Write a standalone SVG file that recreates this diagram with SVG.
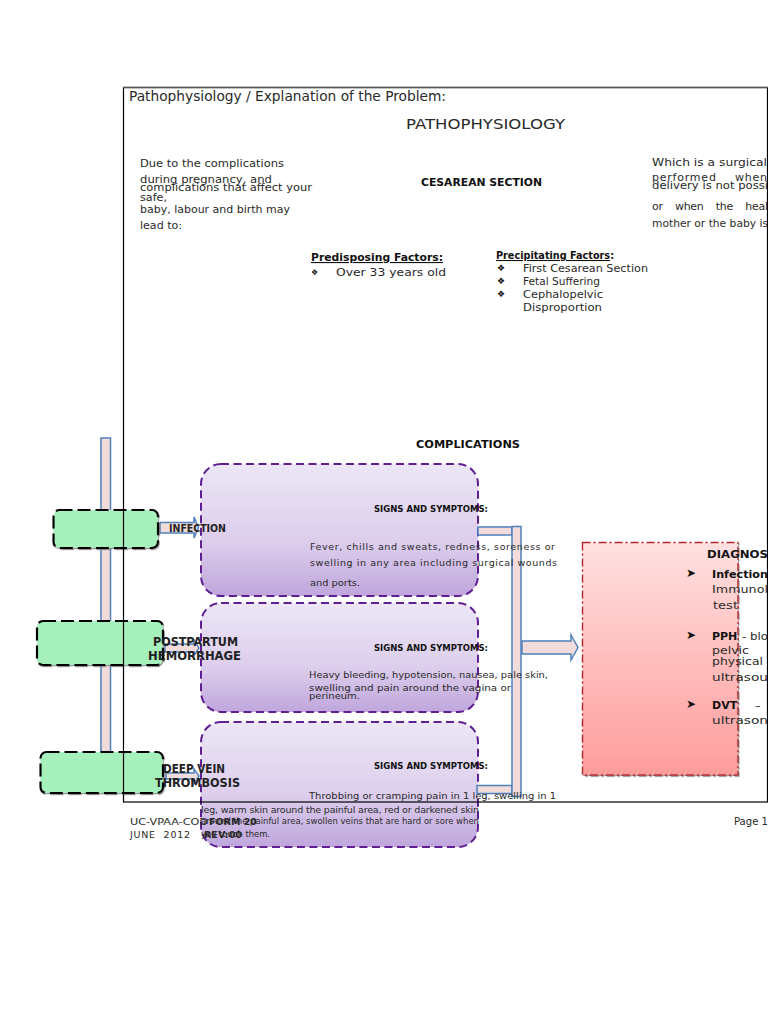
<svg xmlns="http://www.w3.org/2000/svg" width="768" height="1024" viewBox="0 0 768 1024">
<style>
text{font-family:"DejaVu Sans",Verdana,sans-serif;font-size:11px;fill:#2a2a2a}
.b{font-weight:bold;fill:#111}
.u{text-decoration:underline}
.h{font-size:10.5px;font-weight:bold;fill:#111}
.ss{font-size:8px;font-weight:bold;fill:#111}
.sm{font-size:9.5px}
.lab{font-size:11.5px;font-weight:bold;fill:#222}
.dm{fill:#111}
.bar{fill:#f2dcdb;stroke:#4f81bd;stroke-width:1.5}
.green{fill:#a6f0bb;stroke:#000;stroke-width:2.2;stroke-dasharray:13 5;filter:url(#sh)}
.purple{fill:url(#pg);stroke:#5f1f92;stroke-width:2;stroke-dasharray:8 4.5}
</style>
<defs>
<filter id="sh" x="-5%" y="-5%" width="110%" height="115%"><feDropShadow dx="0.800" dy="1.200" stdDeviation="0.600" flood-color="#777" flood-opacity=".8"/></filter>
<linearGradient id="pg" x1="0" y1="0" x2="0" y2="1"><stop offset="0" stop-color="#ece6f6"/><stop offset=".6" stop-color="#dccdec"/><stop offset="1" stop-color="#bfa6dc"/></linearGradient>
<linearGradient id="rg" x1="0" y1="0" x2="0" y2="1"><stop offset="0" stop-color="#ffe0e0"/><stop offset="1" stop-color="#ff9c9c"/></linearGradient>
</defs>
<rect width="768" height="1024" fill="#fff"/>
<g id="connectors">
<rect class="bar" x="101" y="438" width="9.500" height="314"/>
<path class="bar" d="M160 522.500H194V517L198.500 527.500L194 538V533H160Z"/>
<path class="bar" d="M165 644H194V640L199 648L194 656V652H165Z"/>
<path class="bar" d="M166 773H194V769L199 776L194 784V779H166Z"/>
</g>
<g id="header">
<text x="129" y="101" style="font-size:13.500px" textLength="317" lengthAdjust="spacingAndGlyphs">Pathophysiology / Explanation of the Problem:</text>
<text x="406" y="129" style="font-size:13.500px" textLength="159" lengthAdjust="spacingAndGlyphs">PATHOPHYSIOLOGY</text>
<text x="140" y="167" textLength="144" lengthAdjust="spacingAndGlyphs">Due to the complications</text>
<text x="140" y="183" textLength="132" lengthAdjust="spacingAndGlyphs">during pregnancy, and</text>
<text x="140" y="191" textLength="172" lengthAdjust="spacingAndGlyphs">complications that affect your</text>
<text x="140" y="201" textLength="27" lengthAdjust="spacingAndGlyphs">safe,</text>
<text x="140" y="213" textLength="150" lengthAdjust="spacingAndGlyphs">baby, labour and birth may</text>
<text x="140" y="229" textLength="42" lengthAdjust="spacingAndGlyphs">lead to:</text>
<text class="h" x="421" y="186" textLength="121" lengthAdjust="spacingAndGlyphs">CESAREAN SECTION</text>
<text x="652" y="166" textLength="115" lengthAdjust="spacingAndGlyphs">Which is a surgical</text>
<text x="652" y="181" word-spacing="14" textLength="115" lengthAdjust="spacing">performed when</text>
<text x="652" y="189" textLength="116" lengthAdjust="spacingAndGlyphs">delivery is not possi</text>
<text x="652" y="210" word-spacing="9" textLength="116" lengthAdjust="spacing">or when the heal</text>
<text x="652" y="227" style="font-size:10.500px" textLength="116" lengthAdjust="spacingAndGlyphs">mother or the baby is</text>
<text class="b u" x="311" y="261" textLength="132" lengthAdjust="spacingAndGlyphs">Predisposing Factors:</text>
<text class="dm" x="311" y="275" style="font-size:8px">❖</text>
<text x="336" y="276" textLength="110" lengthAdjust="spacingAndGlyphs">Over 33 years old</text>
<text class="b" x="496" y="259" style="font-size:10.500px" textLength="118" lengthAdjust="spacingAndGlyphs"><tspan class="u">Precipitating Factors</tspan>:</text>
<text class="dm" x="497" y="271" style="font-size:9px">❖</text>
<text x="523" y="272" textLength="125" lengthAdjust="spacingAndGlyphs">First Cesarean Section</text>
<text class="dm" x="497" y="284" style="font-size:9px">❖</text>
<text x="523" y="285" textLength="77" lengthAdjust="spacingAndGlyphs">Fetal Suffering</text>
<text class="dm" x="497" y="297" style="font-size:9px">❖</text>
<text x="523" y="298" textLength="80" lengthAdjust="spacingAndGlyphs">Cephalopelvic</text>
<text x="523" y="311" textLength="79" lengthAdjust="spacingAndGlyphs">Disproportion</text>
<text class="h" x="416" y="448" textLength="104" lengthAdjust="spacingAndGlyphs">COMPLICATIONS</text>
</g>
<g id="node-infection-box"><rect class="green" x="53.500" y="510" width="104.500" height="38" rx="6"/></g>
<g id="node-pph-box"><rect class="green" x="37" y="621" width="126" height="44" rx="6"/></g>
<g id="node-dvt-box"><rect class="green" x="40.500" y="752" width="122.500" height="41" rx="6"/></g>
<g id="node-infection"><rect class="purple" x="201" y="464" width="277" height="132" rx="20"/></g>
<g id="node-pph"><rect class="purple" x="201" y="603" width="277" height="109" rx="20"/></g>
<g id="node-dvt"><rect class="purple" x="201" y="722" width="277" height="125" rx="20"/></g>
<g id="connectors-right">
<rect class="bar" x="478" y="527" width="34" height="8"/>
<rect class="bar" x="477" y="785.500" width="35" height="8"/>
<rect class="bar" x="512" y="526.500" width="9" height="270"/>
<path class="bar" d="M522 641H571V635L578 647.500L571 660V654H522Z"/>
</g>
<g id="node-diagnostics"><rect x="582.500" y="542.500" width="155.500" height="232.500" fill="url(#rg)" stroke="#b5262c" stroke-width="1.400" stroke-dasharray="8 3 2 3" filter="url(#sh)"/></g>
<rect id="page" x="123.500" y="87.500" width="644" height="714.500" fill="none" stroke="#000" stroke-width="1.200"/>
<line x1="123" y1="87.500" x2="768" y2="87.500" stroke="#555" stroke-width="1.500"/>
<g id="labels">
<text class="lab" x="169" y="532" style="font-size:10.500px" textLength="57" lengthAdjust="spacingAndGlyphs">INFECTION</text>
<text class="lab" x="153" y="646" textLength="85" lengthAdjust="spacingAndGlyphs">POSTPARTUM</text>
<text class="lab" x="148" y="660" textLength="93" lengthAdjust="spacingAndGlyphs">HEMORRHAGE</text>
<text class="lab" x="163" y="773" textLength="62" lengthAdjust="spacingAndGlyphs">DEEP VEIN</text>
<text class="lab" x="155" y="787" textLength="85" lengthAdjust="spacingAndGlyphs">THROMBOSIS</text>
<text class="ss" x="374" y="512" textLength="114" lengthAdjust="spacingAndGlyphs">SIGNS AND SYMPTOMS:</text>
<text class="sm" x="310" y="550" textLength="245" lengthAdjust="spacing">Fever, chills and sweats, redness, soreness or</text>
<text class="sm" x="310" y="566" textLength="247" lengthAdjust="spacing">swelling in any area including surgical wounds</text>
<text class="sm" x="310" y="586" textLength="50" lengthAdjust="spacingAndGlyphs">and ports.</text>
<text class="ss" x="374" y="651" textLength="114" lengthAdjust="spacingAndGlyphs">SIGNS AND SYMPTOMS:</text>
<text class="sm" x="309" y="678" textLength="239" lengthAdjust="spacingAndGlyphs">Heavy bleeding, hypotension, nausea, pale skin,</text>
<text class="sm" x="309" y="691" textLength="202" lengthAdjust="spacingAndGlyphs">swelling and pain around the vagina or</text>
<text class="sm" x="309" y="699" textLength="51" lengthAdjust="spacingAndGlyphs">perineum.</text>
<text class="ss" x="374" y="769" textLength="114" lengthAdjust="spacingAndGlyphs">SIGNS AND SYMPTOMS:</text>
<text class="sm" x="309" y="799" textLength="247" lengthAdjust="spacingAndGlyphs">Throbbing or cramping pain in 1 leg, swelling in 1</text>
<text class="sm" x="201" y="813" textLength="278" lengthAdjust="spacing">leg, warm skin around the painful area, red or darkened skin</text>
<text class="sm" x="201" y="824" textLength="278" lengthAdjust="spacingAndGlyphs">around the painful area, swollen veins that are hard or sore when</text>
<text class="sm" x="201" y="837" textLength="69" lengthAdjust="spacingAndGlyphs">you touch them.</text>
<text class="b" x="707" y="558" textLength="61" lengthAdjust="spacingAndGlyphs">DIAGNOS</text>
<text class="b" x="686" y="577" style="font-size:12px">➤</text>
<text class="b" x="712" y="578" textLength="56" lengthAdjust="spacingAndGlyphs">Infection</text>
<text x="712" y="593" textLength="56" lengthAdjust="spacingAndGlyphs">Immunol</text>
<text x="713" y="609" textLength="25" lengthAdjust="spacingAndGlyphs">test</text>
<text class="b" x="686" y="639" style="font-size:12px">➤</text>
<text class="b" x="712" y="640">PPH</text>
<text x="742" y="640" textLength="26" lengthAdjust="spacingAndGlyphs">- blo</text>
<text x="712" y="654" textLength="37" lengthAdjust="spacingAndGlyphs">pelvic</text>
<text x="712" y="665" textLength="51" lengthAdjust="spacingAndGlyphs">physical</text>
<text x="712" y="681" textLength="56" lengthAdjust="spacingAndGlyphs">ultrasou</text>
<text class="b" x="686" y="708" style="font-size:12px">➤</text>
<text class="b" x="712" y="709">DVT</text>
<text x="755" y="709">–</text>
<text x="712" y="724" textLength="56" lengthAdjust="spacingAndGlyphs">ultrason</text>
</g>
<g id="footer">
<text class="sm" x="130" y="825" textLength="78" lengthAdjust="spacingAndGlyphs">UC-VPAA-COD</text>
<text class="sm" x="209" y="825" style="font-weight:bold" textLength="48" lengthAdjust="spacingAndGlyphs">FORM 20</text>
<text class="sm" x="130" y="838" word-spacing="4" textLength="60" lengthAdjust="spacing">JUNE 2012</text>
<text class="sm" x="204" y="838" style="font-weight:bold" textLength="38" lengthAdjust="spacingAndGlyphs">REV:00</text>
<text x="734" y="825" style="font-size:10px" textLength="34" lengthAdjust="spacingAndGlyphs">Page 1</text>
</g>
</svg>
